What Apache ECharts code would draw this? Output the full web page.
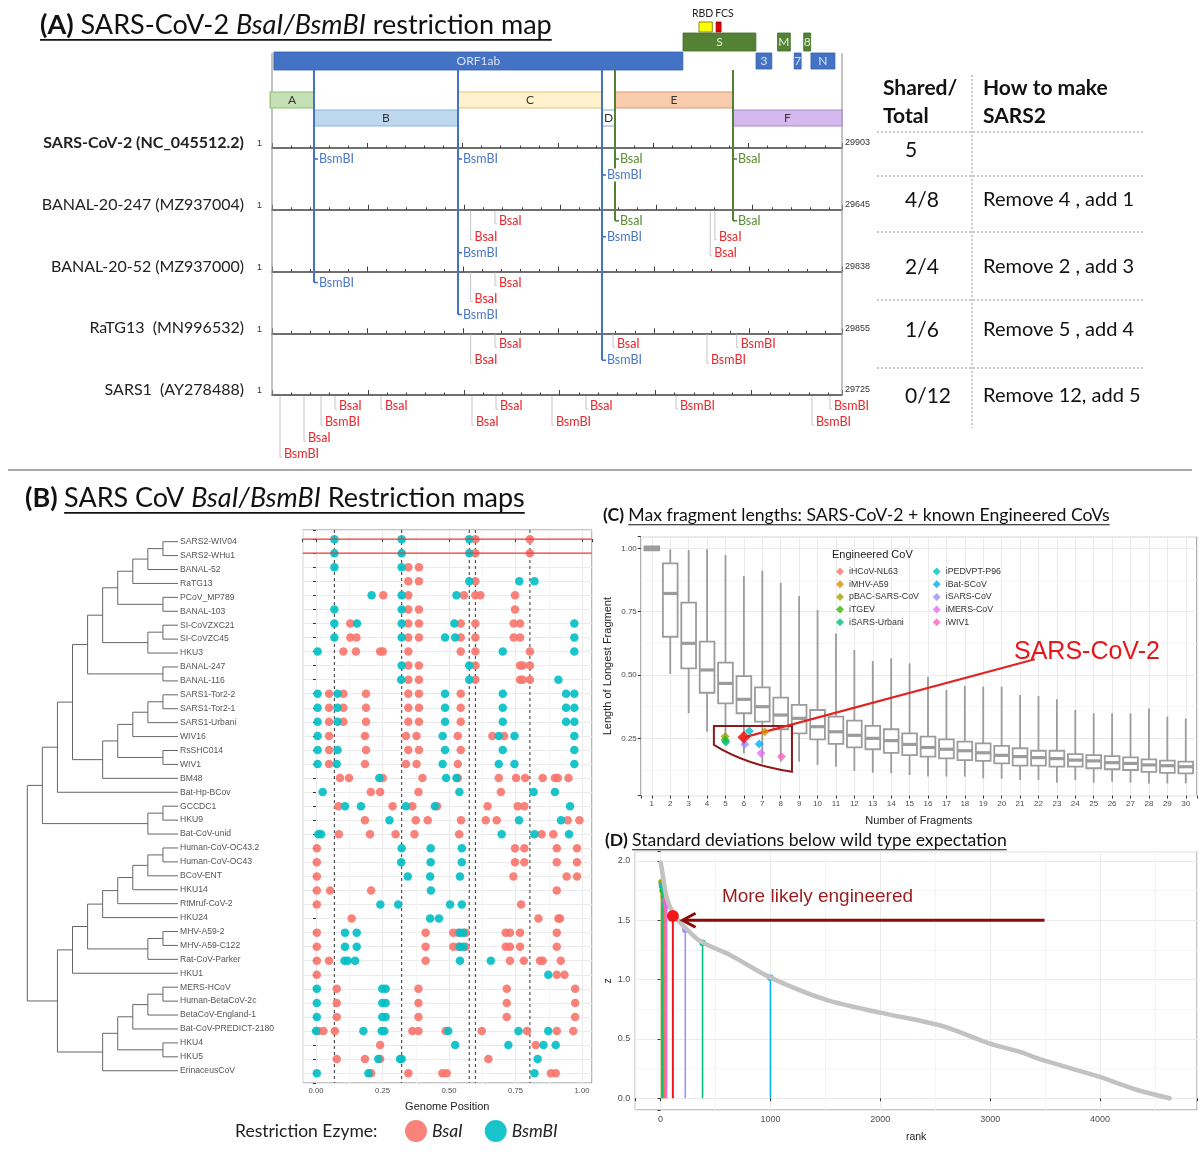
<!DOCTYPE html>
<html>
<head>
<meta charset="utf-8">
<title>SARS-CoV-2 BsaI/BsmBI restriction maps</title>
<script src="https://cdn.jsdelivr.net/npm/echarts@6.0.0/dist/echarts.min.js"></script>
<style>
  html, body { margin: 0; padding: 0; background: #fff; }
  #chart { width: 1200px; height: 1155px; }
</style>
</head>
<body>
<div id="chart"></div>
<script>
// ---------------- panel A: restriction map ----------------
const mapRows = ['SARS-CoV-2 (NC_045512.2)', 'BANAL-20-247 (MZ937004)', 'BANAL-20-52 (MZ937000)', 'RaTG13  (MN996532)', 'SARS1  (AY278488)']
const genomeLengths = [29903, 29645, 29838, 29855, 29725]
const geneNames = ['ORF1ab', 'S', '3', 'M', '7', '8', 'N']
const geneStart = [100, 21563, 25393, 26523, 27394, 27894, 28274]
const geneEnd = [21555, 25384, 26220, 27191, 27759, 28259, 29533]
const geneTrack = [0, 1, 0, 1, 0, 1, 0] // 0 lower (blue), 1 upper (green)
const domainNames = ['RBD', 'FCS']
const domainStart = [22400, 23300]
const domainEnd = [23100, 23560]
const fragNames = ['A', 'B', 'C', 'D', 'E', 'F']
const fragBounds = [-100, 2203, 9758, 17312, 17994, 24184, 29903]
const enzymes = ['BsaI', 'BsmBI']
// [row, position, enzyme (0 BsaI / 1 BsmBI), label tier, shared with SARS-CoV-2]
const mapSites = [
  [0, 2203, 1, 1, 1], [0, 9758, 1, 1, 1], [0, 17312, 1, 2, 1], [0, 17994, 0, 1, 1], [0, 24184, 0, 1, 1],
  [1, 9758, 1, 3, 1], [1, 17312, 1, 2, 1], [1, 17994, 0, 1, 1], [1, 24184, 0, 1, 1],
  [1, 11699, 0, 1, 0], [1, 10420, 0, 2, 0], [1, 23234, 0, 2, 0], [1, 22990, 0, 3, 0],
  [2, 2203, 1, 1, 1], [2, 9758, 1, 3, 1], [2, 11699, 0, 1, 0], [2, 10420, 0, 2, 0],
  [3, 17312, 1, 2, 1], [3, 11699, 0, 1, 0], [3, 10420, 0, 2, 0], [3, 17890, 0, 1, 0], [3, 22820, 1, 2, 0], [3, 24378, 1, 1, 0],
  [4, 420, 1, 4, 0], [4, 1679, 0, 3, 0], [4, 2571, 1, 2, 0], [4, 3305, 0, 1, 0], [4, 5718, 0, 1, 0], [4, 10492, 0, 2, 0],
  [4, 11751, 0, 1, 0], [4, 14689, 1, 2, 0], [4, 16472, 0, 1, 0], [4, 21194, 1, 1, 0], [4, 28328, 1, 2, 0], [4, 29273, 1, 1, 0]
]
const tableShared = ['5', '4/8', '2/4', '1/6', '0/12']
const tableHow = ['', 'Remove 4 , add 1', 'Remove 2 , add 3', 'Remove 5 , add 4', 'Remove 12, add 5']

// ---------------- panel B: tree + dot map ----------------
const strains = ['SARS2-WIV04', 'SARS2-WHu1', 'BANAL-52', 'RaTG13', 'PCoV_MP789', 'BANAL-103', 'SI-CoVZXC21', 'SI-CoVZC45', 'HKU3',
  'BANAL-247', 'BANAL-116', 'SARS1-Tor2-2', 'SARS1-Tor2-1', 'SARS1-Urbani', 'WIV16', 'RsSHC014', 'WIV1', 'BM48', 'Bat-Hp-BCov',
  'GCCDC1', 'HKU9', 'Bat-CoV-unid', 'Human-CoV-OC43.2', 'Human-CoV-OC43', 'BCoV-ENT', 'HKU14', 'RtMruf-CoV-2', 'HKU24',
  'MHV-A59-2', 'MHV-A59-C122', 'Rat-CoV-Parker', 'HKU1', 'MERS-HCoV', 'Human-BetaCoV-2c', 'BetaCoV-England-1',
  'Bat-CoV-PREDICT-2180', 'HKU4', 'HKU5', 'ErinaceusCoV']
const sarbecoA = [[[[[['SARS2-WIV04', 'SARS2-WHu1'], 'BANAL-52'], 'RaTG13'], ['PCoV_MP789', 'BANAL-103']], [['SI-CoVZXC21', 'SI-CoVZC45'], 'HKU3']], ['BANAL-247', 'BANAL-116']]
const sarbecoB = [[[[['SARS1-Tor2-2', 'SARS1-Tor2-1'], 'SARS1-Urbani'], 'WIV16'], ['RsSHC014', 'WIV1']], 'BM48']
const nobeco = [['GCCDC1', 'HKU9'], 'Bat-CoV-unid']
const embeco = [[[[[[['Human-CoV-OC43.2', 'Human-CoV-OC43'], 'BCoV-ENT'], 'HKU14'], 'RtMruf-CoV-2'], 'HKU24'], [['MHV-A59-2', 'MHV-A59-C122'], 'Rat-CoV-Parker']], 'HKU1']
const merbeco = [[[[['MERS-HCoV', 'Human-BetaCoV-2c'], 'BetaCoV-England-1'], 'Bat-CoV-PREDICT-2180'], ['HKU4', 'HKU5']], 'ErinaceusCoV']
const tree = [[[[sarbecoA, sarbecoB], 'Bat-Hp-BCov'], nobeco], [embeco, merbeco]]

const bsaiPos = [
  [0.599, 0.804], [0.599, 0.804], [0.347, 0.387], [0.347, 0.387, 0.599],
  [0.253, 0.347, 0.556, 0.599, 0.618, 0.748], [0.347, 0.387, 0.748],
  [0.129, 0.347, 0.387, 0.544, 0.599, 0.743, 0.767], [0.129, 0.152, 0.347, 0.387, 0.544, 0.599, 0.743, 0.767],
  [0.103, 0.150, 0.241, 0.251, 0.347, 0.544, 0.599, 0.804],
  [0.347, 0.387, 0.599, 0.767, 0.777, 0.804], [0.347, 0.387, 0.599, 0.767, 0.777, 0.804],
  [0.049, 0.103, 0.188, 0.347, 0.387, 0.544], [0.049, 0.103, 0.188, 0.347, 0.387, 0.544], [0.049, 0.103, 0.188, 0.347, 0.387, 0.544],
  [0.049, 0.184, 0.338, 0.378, 0.533, 0.663, 0.707], [0.049, 0.188, 0.347, 0.387, 0.544], [0.049, 0.184, 0.338, 0.378, 0.533],
  [0.090, 0.124, 0.251, 0.400, 0.533, 0.687, 0.752, 0.786, 0.852, 0.898, 0.909, 0.949],
  [0.206, 0.241, 0.385, 0.695],
  [0.084, 0.288, 0.362, 0.455, 0.645, 0.758, 0.783],
  [0.184, 0.375, 0.420, 0.545, 0.638, 0.679, 0.946, 0.990],
  [0.086, 0.203, 0.299, 0.370, 0.538, 0.848, 0.892],
  [0.003, 0.748, 0.783, 0.905, 0.981], [0.003, 0.748, 0.783, 0.905, 0.981], [0.003, 0.742, 0.942, 0.981],
  [0.003, 0.053, 0.207, 0.905], [0.003, 0.771], [0.134, 0.836, 0.911, 0.917],
  [0.003, 0.412, 0.516, 0.535, 0.563, 0.713, 0.729, 0.767, 0.905], [0.003, 0.412, 0.516, 0.535, 0.563, 0.713, 0.729, 0.767, 0.905],
  [0.003, 0.049, 0.412, 0.729, 0.781, 0.842, 0.852, 0.920], [0.003, 0.905, 0.934],
  [0.078, 0.385, 0.717, 0.974], [0.078, 0.385, 0.717, 0.974], [0.078, 0.385, 0.717, 0.974],
  [0.009, 0.028, 0.071, 0.362, 0.385, 0.487, 0.623, 0.793, 0.905, 0.967],
  [0.241, 0.826], [0.078, 0.184, 0.241, 0.648], [0.207, 0.347, 0.475, 0.491, 0.883, 0.901]
]
const bsmbiPos = [
  [0.069, 0.322, 0.576], [0.069, 0.322, 0.576], [0.069, 0.322], [0.576, 0.764, 0.821],
  [0.209, 0.322, 0.528], [0.069, 0.322],
  [0.069, 0.154, 0.322, 0.520, 0.971], [0.069, 0.322, 0.485, 0.523, 0.971], [0.006, 0.702, 0.971],
  [0.322, 0.576], [0.320, 0.576, 0.911],
  [0.006, 0.081, 0.485, 0.702, 0.940, 0.971], [0.006, 0.081, 0.485, 0.702, 0.940, 0.971], [0.006, 0.081, 0.485, 0.702, 0.940, 0.971],
  [0.006, 0.476, 0.687, 0.746, 0.971], [0.006, 0.081, 0.485, 0.702, 0.971], [0.006, 0.078, 0.476, 0.687, 0.746, 0.971],
  [0.238, 0.489, 0.528], [0.025, 0.539, 0.818, 0.898], [0.109, 0.169, 0.338, 0.447, 0.955],
  [0.276, 0.763, 0.921], [0.009, 0.019, 0.698, 0.821, 0.951],
  [0.322, 0.431, 0.548], [0.320, 0.431, 0.548], [0.345, 0.429, 0.541], [0.432], [0.242, 0.309, 0.504, 0.548], [0.429, 0.462],
  [0.109, 0.153, 0.541, 0.554], [0.109, 0.153, 0.541, 0.554], [0.107, 0.119, 0.147, 0.541, 0.657], [0.873],
  [0.003, 0.249, 0.262], [0.003, 0.249, 0.262], [0.003, 0.249, 0.262],
  [0.0, 0.178, 0.247, 0.257, 0.497, 0.761, 0.873],
  [0.523, 0.723, 0.855, 0.901], [0.234, 0.316, 0.322, 0.833], [0.003, 0.197, 0.821]
]
const highlightRows = [0, 1] // SARS2 rows marked in red

// ---------------- panel C: longest fragment boxplots ----------------
const fragCounts = [1, 2, 3, 4, 5, 6, 7, 8, 9, 10, 11, 12, 13, 14, 15, 16, 17, 18, 19, 20, 21, 22, 23, 24, 25, 26, 27, 28, 29, 30]
const boxLow = [1.0, 0.504, 0.349, 0.276, 0.243, 0.191, 0.151, 0.158, 0.158, 0.145, 0.138, 0.122, 0.114, 0.112, 0.105, 0.099, 0.099, 0.099, 0.092, 0.091, 0.086, 0.086, 0.075, 0.086, 0.075, 0.079, 0.075, 0.072, 0.072, 0.072]
const boxQ1 = [1.0, 0.651, 0.526, 0.430, 0.388, 0.349, 0.316, 0.286, 0.270, 0.246, 0.228, 0.214, 0.207, 0.193, 0.184, 0.178, 0.171, 0.164, 0.161, 0.151, 0.142, 0.142, 0.138, 0.138, 0.132, 0.128, 0.125, 0.118, 0.114, 0.112]
const boxMed = [1.0, 0.822, 0.625, 0.520, 0.467, 0.404, 0.375, 0.342, 0.329, 0.296, 0.276, 0.262, 0.250, 0.241, 0.226, 0.214, 0.207, 0.201, 0.193, 0.183, 0.178, 0.174, 0.170, 0.164, 0.161, 0.154, 0.151, 0.145, 0.142, 0.138]
const boxQ3 = [1.0, 0.941, 0.786, 0.632, 0.549, 0.496, 0.451, 0.411, 0.382, 0.362, 0.336, 0.320, 0.299, 0.286, 0.270, 0.257, 0.246, 0.237, 0.230, 0.220, 0.211, 0.201, 0.201, 0.188, 0.184, 0.180, 0.175, 0.167, 0.162, 0.158]
const boxHigh = [1.0, 0.996, 0.993, 0.996, 0.974, 0.891, 0.912, 0.864, 0.812, 0.757, 0.664, 0.599, 0.555, 0.566, 0.546, 0.493, 0.441, 0.457, 0.454, 0.454, 0.421, 0.417, 0.404, 0.362, 0.349, 0.349, 0.349, 0.368, 0.336, 0.329]
const engNames = ['iHCoV-NL63', 'iMHV-A59', 'pBAC-SARS-CoV', 'iTGEV', 'iSARS-Urbani', 'iPEDVPT-P96', 'iBat-SCoV', 'iSARS-CoV', 'iMERS-CoV', 'iWIV1']
const engFrag = [5.95, 7.14, 4.98, 4.98, 5.02, 6.30, 6.83, 6.05, 6.93, 8.04]
const engLongest = [0.252, 0.276, 0.257, 0.243, 0.236, 0.279, 0.228, 0.227, 0.191, 0.178]
const sars2Frag = 6
const sars2Longest = 0.254

// ---------------- panel D: z by rank ----------------
const rankCurve = [1, 18, 53, 106, 158, 229, 369, 632, 1001, 1510, 2001, 2563, 2991, 3265, 3475, 3991, 4317, 4634]
const zCurve = [1.985, 1.895, 1.70, 1.572, 1.502, 1.432, 1.319, 1.207, 1.016, 0.828, 0.721, 0.609, 0.463, 0.393, 0.323, 0.182, 0.076, 0.0]
const engRank = [35, 28, 8, 18, 382, 12, 1000, 225, 55, 45]
const engZ = [1.68, 1.70, 1.82, 1.75, 1.31, 1.79, 1.016, 1.42, 1.62, 1.665]
const sars2Rank = 112
const sars2Z = 1.535

// ---------------- styles / layout ----------------
const engColors = ['#F8766D', '#D89000', '#A3A500', '#39B600', '#00BF7D', '#00BFC4', '#00B0F6', '#9590FF', '#E76BF3', '#FF62BC']
const fragFill = ['#c5e0b4', '#bdd7ee', '#fff2cc', '#ffffff', '#f8cbad', '#d5b9ee']
const fragStroke = ['#8fbc74', '#8eb4dd', '#e0c67e', '#8ea6cf', '#d99a72', '#a88bc9']
const C_BLUE = '#4472c4', C_GREEN = '#548235', C_RED = '#e8282d'
const SANS = '"Liberation Sans", Arial, sans-serif'
const R = 61.75, ROW0 = 148
const trackY = px => (px - ROW0) / R
const TRACK = { geneLow: trackY(61), geneHigh: trackY(42), domain: trackY(27), fragTop: trackY(100), fragBottom: trackY(118), mapTop: trackY(70), frameTop: trackY(53) }
const tierY = t => (16 * t - 5) / R
const rowY = mapRows.map((r, i) => ROW0 + i * R)

function T(x, y, text, o) {
  const align = o.align || 'left', va = o.va || 'middle'
  const style = { x, y, text, font: o.font, fill: o.fill, align, textAlign: align, verticalAlign: va, textVerticalAlign: va }
  if (o.bg) { style.backgroundColor = o.bg; style.padding = [0, 1] }
  return { type: 'text', style }
}

// shared restriction lines run from the gene map down to the deepest matching label
const sharedLines = mapSites.filter(s => s[0] === 0).map(s0 => {
  const hits = mapSites.filter(s => s[4] && s[1] === s0[1])
  return [s0[1], Math.max(...hits.map(s => s[0] + tierY(s[3]))), s0[2]]
})

// cladogram layout (all tips aligned, nodes placed by height)
const dendroSegs = []
function layoutTree(node) {
  if (typeof node === 'string') return { x: 10, y: strains.indexOf(node), h: 0 }
  const kids = node.map(layoutTree)
  const h = 1 + Math.max(...kids.map(k => k.h))
  const ys = kids.map(k => k.y)
  const x = 10 - h
  dendroSegs.push([x, Math.min(...ys), x, Math.max(...ys)])
  kids.forEach(k => dendroSegs.push([x, k.y, k.x, k.y]))
  return { x, y: (Math.min(...ys) + Math.max(...ys)) / 2, h }
}
layoutTree(tree)

const sars2Sites = [...bsaiPos[0], ...bsmbiPos[0]]

// ---------------- titles & table (graphic) ----------------
const measureCtx = document.createElement('canvas').getContext('2d')
function fontStr(p, size, fam) { return (p.i ? 'italic ' : '') + (p.b ? 'bold ' : '') + size.toFixed(2) + 'px ' + fam }
function titleEls(parts, x, y, targetW, fam) {
  let size = 20
  const w0 = parts.reduce((s, p) => { measureCtx.font = fontStr(p, size, fam); return s + measureCtx.measureText(p.t).width }, 0)
  size = size * targetW / w0
  const els = []
  let cx = x, ul = null
  parts.forEach(p => {
    const f = fontStr(p, size, fam)
    measureCtx.font = f
    const w = measureCtx.measureText(p.t).width
    els.push(T(cx, y, p.t, { font: f, fill: '#111' }))
    if (p.u && ul === null) ul = cx
    cx += w
  })
  const uy = y + size * 0.55
  els.push({ type: 'line', shape: { x1: ul, y1: uy, x2: cx, y2: uy }, style: { stroke: '#111', lineWidth: Math.max(1, size / 17) } })
  return els
}

const graphicEls = [
  ...titleEls([{ t: '(A)', b: 1, u: 1 }, { t: ' SARS-CoV-2 ', u: 1 }, { t: 'BsaI/BsmBI', i: 1, u: 1 }, { t: ' restriction map', u: 1 }], 40, 25, 512, 'Lato'),
  ...titleEls([{ t: '(B) ', b: 1 }, { t: 'SARS CoV ', u: 1 }, { t: 'BsaI/BsmBI', i: 1, u: 1 }, { t: ' Restriction maps', u: 1 }], 25, 498, 500, 'Lato'),
  ...titleEls([{ t: '(C) ', b: 1 }, { t: 'Max fragment lengths: SARS-CoV-2 + known Engineered CoVs', u: 1 }], 603, 515, 507, 'Lato'),
  ...titleEls([{ t: '(D) ', b: 1 }, { t: 'Standard deviations below wild type expectation', u: 1 }], 605, 840, 402, 'Lato'),
  { type: 'line', shape: { x1: 8, y1: 470, x2: 1192, y2: 470 }, style: { stroke: '#555', lineWidth: 1 } },
  T(883, 88, 'Shared/', { font: 'bold 21px Lato', fill: '#111' }),
  T(883, 116, 'Total', { font: 'bold 21px Lato', fill: '#111' }),
  T(983, 88, 'How to make', { font: 'bold 21px Lato', fill: '#111' }),
  T(983, 116, 'SARS2', { font: 'bold 21px Lato', fill: '#111' }),
  T(235, 1131, 'Restriction Ezyme:', { font: '17.5px Lato', fill: '#222' }),
  T(832, 555, 'Engineered CoV', { font: '11px ' + SANS, fill: '#222' })
]
const tableRowY = [150, 200, 267, 330, 396]
;[132, 176, 232, 300, 368].forEach(y => graphicEls.push({ type: 'line', shape: { x1: 877, y1: y, x2: 1145, y2: y }, style: { stroke: '#999', lineWidth: 1, lineDash: [2, 2] } }))
graphicEls.push({ type: 'line', shape: { x1: 972, y1: 75, x2: 972, y2: 428 }, style: { stroke: '#999', lineWidth: 1, lineDash: [2, 2] } })
tableShared.forEach((s, i) => graphicEls.push(T(905, tableRowY[i], s, { font: '21px Lato', fill: '#111' })))
tableHow.forEach((s, i) => { if (s) graphicEls.push(T(983, tableRowY[i], s, { font: '20px Lato', fill: '#111' })) })

// ---------------- render functions ----------------
function geneItem(params, api) {
  const i = params.dataIndex
  const hi = geneTrack[i] === 1
  const yc = hi ? TRACK.geneHigh : TRACK.geneLow
  const a = api.coord([api.value(0), yc]), b = api.coord([api.value(1), yc])
  const h = (hi || i === 0) ? 18 : 16
  return {
    type: 'group', children: [
      { type: 'rect', shape: { x: a[0], y: a[1] - h / 2, width: b[0] - a[0], height: h }, style: { fill: hi ? C_GREEN : C_BLUE, stroke: hi ? '#41692a' : '#3461b0', lineWidth: 0.8 } },
      T((a[0] + b[0]) / 2, a[1], geneNames[i], { font: '12px Lato', fill: hi ? '#e2f0d9' : '#dae3f3', align: 'center' })
    ]
  }
}
function domainItem(params, api) {
  const i = params.dataIndex
  const a = api.coord([api.value(0), TRACK.domain]), b = api.coord([api.value(1), TRACK.domain])
  const lab = i === 0 ? T(b[0] + 1, a[1] - 13, domainNames[i], { font: '10.5px Lato', fill: '#222', align: 'right' })
    : T(a[0] - 1, a[1] - 13, domainNames[i], { font: '10.5px Lato', fill: '#222' })
  return {
    type: 'group', children: [
      { type: 'rect', shape: { x: a[0], y: a[1] - 5, width: b[0] - a[0], height: 10 }, style: { fill: i === 0 ? '#ffff00' : '#e00000', stroke: i === 0 ? '#6b6b00' : '#900', lineWidth: 0.8 } },
      lab
    ]
  }
}
function fragItem(params, api) {
  const i = params.dataIndex
  const yc = i % 2 === 0 ? TRACK.fragTop : TRACK.fragBottom
  const a = api.coord([api.value(0), yc]), b = api.coord([api.value(1), yc])
  return {
    type: 'group', children: [
      { type: 'rect', shape: { x: a[0], y: a[1] - 8, width: b[0] - a[0], height: 16 }, style: { fill: fragFill[i], stroke: fragStroke[i], lineWidth: 1.2 } },
      T((a[0] + b[0]) / 2, a[1], fragNames[i], { font: '12px Lato', fill: '#333', align: 'center' })
    ]
  }
}
function frameItem(params, api) {
  const l0 = api.coord([0, TRACK.frameTop]), l1 = api.coord([0, 4])
  const r0 = api.coord([genomeLengths[0], TRACK.frameTop]), r1 = api.coord([genomeLengths[0], 4])
  return {
    type: 'group', children: [
      { type: 'line', shape: { x1: l0[0], y1: l0[1], x2: l1[0], y2: l1[1] }, style: { stroke: '#9a9a9a', lineWidth: 1.2 } },
      { type: 'line', shape: { x1: r0[0], y1: r0[1], x2: r1[0], y2: r1[1] }, style: { stroke: '#9a9a9a', lineWidth: 1.2 } }
    ]
  }
}
function sharedLineItem(params, api) {
  const a = api.coord([api.value(0), TRACK.mapTop]), b = api.coord([api.value(0), api.value(1)])
  return { type: 'line', shape: { x1: a[0], y1: a[1], x2: b[0], y2: b[1] }, style: { stroke: api.value(2) ? C_BLUE : C_GREEN, lineWidth: 2 } }
}
function siteItem(params, api) {
  const [row, pos, enz, tier, shared] = mapSites[params.dataIndex]
  const base = api.coord([pos, row]), lab = api.coord([pos, row + tierY(tier)])
  const kids = []
  if (shared) {
    kids.push({ type: 'line', shape: { x1: lab[0], y1: lab[1], x2: lab[0] + 4, y2: lab[1] }, style: { stroke: enz ? C_BLUE : C_GREEN, lineWidth: 1.6 } })
  } else {
    kids.push({ type: 'polyline', shape: { points: [[base[0], base[1] + 1], [lab[0], lab[1] + 3], [lab[0] + 2, lab[1] + 3]] }, style: { stroke: '#c4c4c4', lineWidth: 1, fill: 'none' } })
  }
  const col = shared ? (enz ? '#4a78c8' : '#5b8c34') : C_RED
  kids.push(T(lab[0] + 4, lab[1], enzymes[enz], { font: '12.5px Lato', fill: col, bg: shared ? '#fff' : null }))
  return { type: 'group', children: kids }
}
function rowLabelItem(params, api) {
  const i = params.dataIndex
  const a = api.coord([0, i]), b = api.coord([genomeLengths[0], i])
  return {
    type: 'group', children: [
      T(a[0] - 28, a[1] - 5, mapRows[i], { font: (i === 0 ? 'bold ' : '') + '16px Lato', fill: '#222', align: 'right' }),
      T(a[0] - 10, a[1] - 4, '1', { font: '9px ' + SANS, fill: '#333', align: 'right' }),
      T(b[0] + 3, a[1] - 5, String(genomeLengths[i]), { font: '9px "Liberation Sans Narrow", ' + SANS, fill: '#333' })
    ]
  }
}
function segItem(params, api) {
  const a = api.coord([api.value(0), api.value(1)]), b = api.coord([api.value(2), api.value(3)])
  return { type: 'line', shape: { x1: a[0], y1: a[1], x2: b[0], y2: b[1] }, style: { stroke: '#666', lineWidth: 1 } }
}
function leafItem(params, api) {
  const p = api.coord([api.value(0), api.value(1)])
  return T(p[0] + 2, p[1], strains[params.dataIndex], { font: '8.6px ' + SANS, fill: '#555' })
}
function highlightItem(params, api) {
  const a = api.coord([-0.05, api.value(0)]), b = api.coord([1.037, api.value(0)])
  return { type: 'line', shape: { x1: a[0], y1: a[1], x2: b[0], y2: b[1] }, style: { stroke: '#ee3a3a', lineWidth: 1.3 } }
}
function siteGuideItem(params, api) {
  const a = api.coord([api.value(0), -0.65]), b = api.coord([api.value(0), 38.7])
  return { type: 'line', shape: { x1: a[0], y1: a[1], x2: b[0], y2: b[1] }, style: { stroke: '#333', lineWidth: 1, lineDash: [3, 3] } }
}
function boxItem(params, api) {
  const x = api.value(0)
  const lo = api.coord([x, api.value(1)]), q1 = api.coord([x, api.value(2)]), md = api.coord([x, api.value(3)])
  const q3 = api.coord([x, api.value(4)]), hi = api.coord([x, api.value(5)])
  const w = api.size([0.8, 0])[0]
  const st = { stroke: '#9c9c9c', lineWidth: 1.8 }
  const flat = q1[1] - q3[1] < 1
  return {
    type: 'group', children: [
      { type: 'line', shape: { x1: lo[0], y1: lo[1], x2: q1[0], y2: q1[1] }, style: st },
      { type: 'line', shape: { x1: q3[0], y1: q3[1], x2: hi[0], y2: hi[1] }, style: st },
      { type: 'rect', shape: { x: q3[0] - w / 2, y: q3[1] - (flat ? 2 : 0), width: w, height: flat ? 4 : q1[1] - q3[1] }, style: { fill: flat ? '#a8a8a8' : '#fff', stroke: '#9c9c9c', lineWidth: 1.8 } },
      { type: 'line', shape: { x1: md[0] - w / 2, y1: md[1], x2: md[0] + w / 2, y2: md[1] }, style: { stroke: '#9c9c9c', lineWidth: 3.2 } }
    ]
  }
}
const calloutC = { box: [[4.37, 0.299], [8.61, 0.299], [8.61, 0.118], [4.37, 0.224]], bend: [6.3, 0.158], arrowEnd: [21.8, 0.562], label: [20.67, 0.592] }
function calloutCItem(params, api) {
  const p = calloutC.box.map(c => api.coord(c))
  const m = api.coord(calloutC.bend)
  const cx = 2 * m[0] - (p[3][0] + p[2][0]) / 2, cy = 2 * m[1] - (p[3][1] + p[2][1]) / 2
  const s = api.coord([sars2Frag, sars2Longest]), e = api.coord(calloutC.arrowEnd), l = api.coord(calloutC.label)
  return {
    type: 'group', children: [
      { type: 'path', shape: { pathData: `M${p[0][0]} ${p[0][1]} L${p[1][0]} ${p[1][1]} L${p[2][0]} ${p[2][1]} Q${cx} ${cy} ${p[3][0]} ${p[3][1]} Z` }, style: { fill: 'none', stroke: '#8b1a1a', lineWidth: 2 } },
      { type: 'line', shape: { x1: s[0], y1: s[1], x2: e[0], y2: e[1] }, style: { stroke: '#e02424', lineWidth: 2.2 } },
      T(l[0], l[1], 'SARS-CoV-2', { font: '25px ' + SANS, fill: '#e8161b' })
    ]
  }
}
function lollipopItem(color, r, w) {
  return function (params, api) {
    const top = api.coord([api.value(0), api.value(1)]), bot = api.coord([api.value(0), 0])
    const col = color || engColors[params.dataIndex]
    return {
      type: 'group', children: [
        { type: 'line', shape: { x1: top[0], y1: top[1], x2: bot[0], y2: bot[1] }, style: { stroke: col, lineWidth: w } },
        { type: 'circle', shape: { cx: top[0], cy: top[1], r }, style: { fill: col } }
      ]
    }
  }
}
const calloutD = { from: [3495, 1.50], to: [200, 1.50], label: [558, 1.696] }
function calloutDItem(params, api) {
  const a = api.coord(calloutD.from), b = api.coord(calloutD.to), l = api.coord(calloutD.label)
  const st = { stroke: '#8b0a0a', lineWidth: 3, fill: 'none' }
  return {
    type: 'group', children: [
      { type: 'line', shape: { x1: a[0], y1: a[1], x2: b[0] + 2, y2: b[1] }, style: st },
      { type: 'polyline', shape: { points: [[b[0] + 13, b[1] - 7], [b[0], b[1]], [b[0] + 13, b[1] + 7]] }, style: st },
      T(l[0], l[1], 'More likely engineered', { font: '19px ' + SANS, fill: '#9a1c1c' })
    ]
  }
}

// ---------------- axes helpers ----------------
const stepFmt = (step, digits) => v => Math.abs(v / step - Math.round(v / step)) < 1e-6 ? v.toFixed(digits) : ''
const gridLine = { show: true, lineStyle: { color: '#ebebeb', width: 1 } }
const minorLine = { show: true, lineStyle: { color: '#f4f4f4', width: 1 } }
const tick = { show: true, length: 3, lineStyle: { color: '#333' } }
const nameStyle = size => ({ fontSize: size, color: '#222', fontFamily: SANS })

const chart = echarts.init(document.getElementById('chart'))
const option = {
  animation: false,
  backgroundColor: '#fff',
  textStyle: { fontFamily: SANS },
  graphic: { elements: graphicEls.map(e => Object.assign({ silent: true, z: 50 }, e)) },
  grid: [
    { left: 272, top: 0, width: 570, height: 470 },
    ...rowY.map(y => ({ left: 272, top: y - 20, width: 570, height: 20 })),
    { left: 27.3, top: 534.7, width: 150.7, height: 543 },
    { left: 302.7, top: 530, width: 289.2, height: 553, show: true, borderColor: '#8c8c8c', borderWidth: 1 },
    { left: 640.8, top: 536.7, width: 556, height: 258.9, show: true, borderColor: '#8c8c8c', borderWidth: 1 },
    { left: 635.2, top: 851.6, width: 562.5, height: 258.4, show: true, borderColor: '#8c8c8c', borderWidth: 1 }
  ],
  xAxis: [
    { gridIndex: 0, type: 'value', min: 0, max: genomeLengths[0], show: false },
    ...genomeLengths.map((len, i) => ({
      gridIndex: i + 1, type: 'value', min: 0, max: len, interval: 5000,
      axisLine: { show: true, onZero: false, lineStyle: { color: '#404040', width: 1.6 } },
      axisTick: { show: true, inside: true, length: 5, lineStyle: { color: '#404040', width: 1 } },
      minorTick: { show: true, splitNumber: 5, length: 2.5, lineStyle: { color: '#404040', width: 1 } },
      axisLabel: { show: false }, splitLine: { show: false }
    })),
    { gridIndex: 6, type: 'value', min: 0, max: 10, show: false },
    {
      gridIndex: 7, type: 'value', min: -0.05, max: 1.037, minInterval: 0.25, maxInterval: 0.25,
      axisLine: { show: false }, axisTick: tick,
      axisLabel: { formatter: stepFmt(0.25, 2), fontSize: 7.7, color: '#4d4d4d', margin: 4 },
      splitLine: gridLine, minorTick: { show: false, splitNumber: 2 }, minorSplitLine: minorLine,
      name: 'Genome Position', nameLocation: 'middle', nameGap: 18, nameTextStyle: nameStyle(11)
    },
    {
      gridIndex: 8, type: 'value', min: 0.4, max: 30.6, minInterval: 1, maxInterval: 1,
      axisLine: { show: false }, axisTick: tick,
      axisLabel: { formatter: stepFmt(1, 0), fontSize: 8, color: '#4d4d4d', margin: 4 },
      splitLine: gridLine,
      name: 'Number of Fragments', nameLocation: 'middle', nameGap: 20, nameTextStyle: nameStyle(11)
    },
    {
      gridIndex: 9, type: 'value', min: -231, max: 4883, minInterval: 1000, maxInterval: 1000,
      axisLine: { show: false }, axisTick: tick,
      axisLabel: { formatter: stepFmt(1000, 0), fontSize: 9, color: '#4d4d4d', margin: 5 },
      splitLine: gridLine, minorTick: { show: false, splitNumber: 2 }, minorSplitLine: minorLine,
      name: 'rank', nameLocation: 'middle', nameGap: 22, nameTextStyle: nameStyle(10.5)
    }
  ],
  yAxis: [
    { gridIndex: 0, type: 'value', min: -ROW0 / R, max: (470 - ROW0) / R, inverse: true, show: false },
    ...rowY.map((y, i) => ({ gridIndex: i + 1, type: 'value', min: 0, max: 1, show: false })),
    { gridIndex: 6, type: 'value', min: -0.5, max: 38.5, inverse: true, show: false },
    {
      gridIndex: 7, type: 'value', min: -0.65, max: 38.7, inverse: true, minInterval: 1, maxInterval: 1,
      axisLine: { show: false }, axisTick: tick, axisLabel: { show: false }, splitLine: gridLine
    },
    {
      gridIndex: 8, type: 'value', min: 0.024, max: 1.046, minInterval: 0.25, maxInterval: 0.25,
      axisLine: { show: false }, axisTick: tick,
      axisLabel: { formatter: stepFmt(0.25, 2), fontSize: 8, color: '#4d4d4d', margin: 4 },
      splitLine: gridLine, minorTick: { show: false, splitNumber: 2 }, minorSplitLine: minorLine,
      name: 'Length of Longest Fragment', nameLocation: 'middle', nameGap: 27, nameRotate: 90, nameTextStyle: nameStyle(11)
    },
    {
      gridIndex: 9, type: 'value', min: -0.099, max: 2.078, minInterval: 0.5, maxInterval: 0.5,
      axisLine: { show: false }, axisTick: tick,
      axisLabel: { formatter: stepFmt(0.5, 1), fontSize: 9, color: '#4d4d4d', margin: 5 },
      splitLine: gridLine, minorTick: { show: false, splitNumber: 2 }, minorSplitLine: minorLine,
      name: 'z', nameLocation: 'middle', nameGap: 22, nameRotate: 90, nameTextStyle: nameStyle(10.5)
    }
  ],
  legend: [
    {
      data: ['BsaI', 'BsmBI'], left: 405, top: 1120, padding: 0, itemWidth: 22, itemHeight: 22, itemGap: 22,
      icon: 'circle', selectedMode: false,
      textStyle: { fontFamily: 'Lato', fontSize: 17.5, fontStyle: 'italic', color: '#222' }
    },
    {
      data: engNames.slice(0, 5), orient: 'vertical', left: 836, top: 567, padding: 0, itemWidth: 8, itemHeight: 8, itemGap: 3.7,
      icon: 'diamond', selectedMode: false, textStyle: { fontSize: 8.8, lineHeight: 9, color: '#333', fontFamily: SANS }
    },
    {
      data: engNames.slice(5), orient: 'vertical', left: 932.7, top: 567, padding: 0, itemWidth: 8, itemHeight: 8, itemGap: 3.7,
      icon: 'diamond', selectedMode: false, textStyle: { fontSize: 8.8, lineHeight: 9, color: '#333', fontFamily: SANS }
    }
  ],
  series: [
    // panel A
    { type: 'custom', name: 'frame', xAxisIndex: 0, yAxisIndex: 0, silent: true, z: 1, renderItem: frameItem, data: [[0, 0]] },
    { type: 'custom', name: 'genes', xAxisIndex: 0, yAxisIndex: 0, silent: true, z: 2, renderItem: geneItem, data: geneStart.map((s, i) => [s, geneEnd[i]]) },
    { type: 'custom', name: 'domains', xAxisIndex: 0, yAxisIndex: 0, silent: true, z: 2, renderItem: domainItem, data: domainStart.map((s, i) => [s, domainEnd[i]]) },
    { type: 'custom', name: 'fragments', xAxisIndex: 0, yAxisIndex: 0, silent: true, z: 2, renderItem: fragItem, data: fragNames.map((n, i) => [fragBounds[i], fragBounds[i + 1]]) },
    { type: 'custom', name: 'shared', xAxisIndex: 0, yAxisIndex: 0, silent: true, z: 3, renderItem: sharedLineItem, data: sharedLines },
    { type: 'custom', name: 'sites', xAxisIndex: 0, yAxisIndex: 0, silent: true, z: 4, renderItem: siteItem, data: mapSites.map(s => [s[1], s[0]]) },
    { type: 'custom', name: 'rows', xAxisIndex: 0, yAxisIndex: 0, silent: true, z: 4, renderItem: rowLabelItem, data: mapRows.map((r, i) => [0, i]) },
    // panel B
    { type: 'custom', name: 'tree', xAxisIndex: 6, yAxisIndex: 6, silent: true, renderItem: segItem, data: dendroSegs },
    { type: 'custom', name: 'tips', xAxisIndex: 6, yAxisIndex: 6, silent: true, renderItem: leafItem, data: strains.map((s, i) => [10, i]) },
    { type: 'custom', name: 'site guides', xAxisIndex: 7, yAxisIndex: 7, silent: true, z: 1, renderItem: siteGuideItem, data: sars2Sites.map(v => [v, 0]) },
    {
      type: 'scatter', name: 'BsaI', xAxisIndex: 7, yAxisIndex: 7, symbolSize: 8.5, silent: true, z: 2,
      itemStyle: { color: '#F8766D', opacity: 0.9 },
      data: bsaiPos.flatMap((row, i) => row.map(p => [p, i]))
    },
    {
      type: 'scatter', name: 'BsmBI', xAxisIndex: 7, yAxisIndex: 7, symbolSize: 8.5, silent: true, z: 2,
      itemStyle: { color: '#00BFC4', opacity: 0.9 },
      data: bsmbiPos.flatMap((row, i) => row.map(p => [p, i]))
    },
    { type: 'custom', name: 'SARS2 rows', xAxisIndex: 7, yAxisIndex: 7, silent: true, z: 3, renderItem: highlightItem, data: highlightRows.map(r => [r, 0]) },
    // panel C
    { type: 'custom', name: 'boxes', xAxisIndex: 8, yAxisIndex: 8, silent: true, renderItem: boxItem, data: fragCounts.map((k, i) => [k, boxLow[i], boxQ1[i], boxMed[i], boxQ3[i], boxHigh[i]]) },
    { type: 'custom', name: 'calloutC', xAxisIndex: 8, yAxisIndex: 8, silent: true, z: 3, renderItem: calloutCItem, data: [[0, 0]] },
    ...engNames.map((n, i) => ({
      type: 'scatter', name: n, xAxisIndex: 8, yAxisIndex: 8, symbol: 'diamond', symbolSize: 9, silent: true, z: 4,
      itemStyle: { color: engColors[i] }, data: [[engFrag[i], engLongest[i]]]
    })),
    { type: 'scatter', name: 'SARS-CoV-2', xAxisIndex: 8, yAxisIndex: 8, symbol: 'diamond', symbolSize: 13, silent: true, z: 5, itemStyle: { color: '#ee1111' }, data: [[sars2Frag, sars2Longest]] },
    // panel D
    {
      type: 'line', name: 'z curve', xAxisIndex: 9, yAxisIndex: 9, silent: true, showSymbol: false, symbol: 'none',
      smooth: 0.3, lineStyle: { color: '#c2c2c2', width: 4.5, cap: 'round' }, data: rankCurve.map((r, i) => [r, zCurve[i]])
    },
    { type: 'custom', name: 'engineered z', xAxisIndex: 9, yAxisIndex: 9, silent: true, z: 3, renderItem: lollipopItem(null, 3.2, 1.5), data: engRank.map((r, i) => [r, engZ[i]]) },
    { type: 'custom', name: 'SARS-CoV-2 z', xAxisIndex: 9, yAxisIndex: 9, silent: true, z: 4, renderItem: lollipopItem('#f01818', 6, 2), data: [[sars2Rank, sars2Z]] },
    { type: 'custom', name: 'calloutD', xAxisIndex: 9, yAxisIndex: 9, silent: true, z: 5, renderItem: calloutDItem, data: [[0, 0]] }
  ]
}
chart.setOption(option)
</script>
</body>
</html>
